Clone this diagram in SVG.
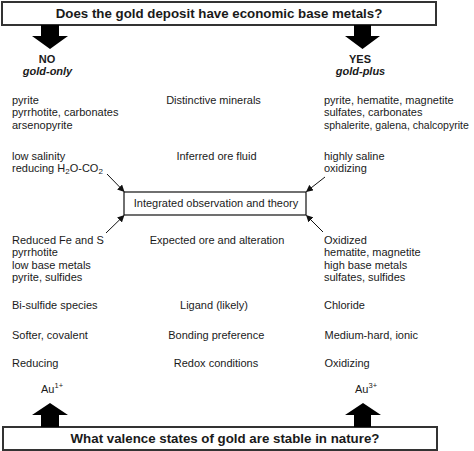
<svg xmlns="http://www.w3.org/2000/svg" width="474" height="451" viewBox="0 0 474 451">
<defs>
<style>
text{font-family:"Liberation Sans",Arial,sans-serif;fill:#1a1a1a;}
.t{font-size:11px;}
.s{font-size:10.5px;}
.m{font-size:11px;text-anchor:middle;}
.q{font-size:13.3px;font-weight:bold;text-anchor:middle;}
.b{font-size:11px;font-weight:bold;text-anchor:middle;}
.bi{font-size:11px;font-weight:bold;font-style:italic;text-anchor:middle;}
.qbox{fill:#fff;stroke:#333;stroke-width:2;}
.box{fill:#fff;stroke:#111;stroke-width:1.2;}
.big{fill:#000;}
.ln{stroke:#111;stroke-width:1;fill:none;marker-end:url(#ah);}
</style>
<marker id="ah" viewBox="0 0 10 10" refX="9" refY="5" markerWidth="7" markerHeight="7" markerUnits="userSpaceOnUse" orient="auto">
<path d="M0,0 L10,5 L0,10 z" fill="#111"/>
</marker>
</defs>
<rect width="474" height="451" fill="#fff"/>

<g id="top-question">
<rect class="qbox" x="2" y="2" width="434" height="23"/>
<text class="q" x="219" y="18">Does the gold deposit have economic base metals?</text>
</g>

<g id="bottom-question">
<rect class="qbox" x="3" y="427" width="434" height="23"/>
<text class="q" x="225" y="443">What valence states of gold are stable in nature?</text>
</g>

<g id="connectors">
<path class="big" d="M41,25 H59 V36 H68 L50,49 L32,36 H41 z"/>
<path class="big" d="M354,25 H371 V36 H380 L362.5,49 L345,36 H354 z"/>
<path class="big" d="M41,427 H59 V415 H68 L50,403 L32,415 H41 z"/>
<path class="big" d="M354,427 H371 V415 H381 L363,403 L345,415 H354 z"/>
<line class="ln" x1="107" y1="174" x2="124" y2="191.5"/>
<line class="ln" x1="106" y1="233" x2="124" y2="215.5"/>
<line class="ln" x1="325" y1="177" x2="306.5" y2="191.5"/>
<line class="ln" x1="323" y1="232" x2="306.5" y2="215.5"/>
</g>

<g id="no-label">
<text class="b" x="47" y="63">NO</text>
<text class="bi" x="47.5" y="75">gold-only</text>
</g>
<g id="yes-label">
<text class="b" x="360" y="63">YES</text>
<text class="bi" x="360.5" y="75">gold-plus</text>
</g>

<g id="integrated">
<rect class="box" x="124" y="192" width="182" height="23"/>
<text class="m" x="216" y="207">Integrated observation and theory</text>
</g>

<g id="minerals">
<text class="t" x="12" y="103.5">pyrite</text>
<text class="t" x="12" y="116">pyrrhotite, carbonates</text>
<text class="t" x="12" y="128.5">arsenopyrite</text>
<text class="m" x="213.5" y="103.5">Distinctive minerals</text>
<text class="t" x="324" y="103.5">pyrite, hematite, magnetite</text>
<text class="t" x="324" y="116">sulfates, carbonates</text>
<text class="s" x="324" y="128.5">sphalerite, galena, chalcopyrite</text>
</g>

<g id="fluid">
<text class="t" x="12" y="159.5">low salinity</text>
<text class="t" x="12" y="172">reducing H<tspan font-size="8" dy="2">2</tspan><tspan dy="-2">O-CO</tspan><tspan font-size="8" dy="2">2</tspan></text>
<text class="m" x="216.5" y="159.5">Inferred ore fluid</text>
<text class="t" x="324" y="159.5">highly saline</text>
<text class="t" x="324" y="172">oxidizing</text>
</g>

<g id="ore-alteration">
<text class="t" x="12" y="243.5">Reduced Fe and S</text>
<text class="t" x="12" y="256">pyrrhotite</text>
<text class="t" x="12" y="268.5">low base metals</text>
<text class="t" x="12" y="281">pyrite, sulfides</text>
<text class="m" x="217" y="243.5">Expected ore and alteration</text>
<text class="t" x="324" y="243.5">Oxidized</text>
<text class="t" x="324" y="256">hematite, magnetite</text>
<text class="t" x="324" y="268.5">high base metals</text>
<text class="t" x="324" y="281">sulfates, sulfides</text>
</g>

<g id="ligand">
<text class="t" x="12" y="309">Bi-sulfide species</text>
<text class="m" x="214" y="309">Ligand (likely)</text>
<text class="t" x="324" y="309">Chloride</text>
</g>

<g id="bonding">
<text class="t" x="12" y="339">Softer, covalent</text>
<text class="m" x="216.3" y="339">Bonding preference</text>
<text class="t" x="324.5" y="339">Medium-hard, ionic</text>
</g>

<g id="redox">
<text class="t" x="12" y="367">Reducing</text>
<text class="m" x="216" y="367">Redox conditions</text>
<text class="t" x="324.5" y="367">Oxidizing</text>
</g>

<g id="au1">
<text class="t" x="41" y="393">Au<tspan font-size="7.5" dy="-5">1+</tspan></text>
</g>
<g id="au3">
<text class="t" x="355" y="393">Au<tspan font-size="7.5" dy="-5">3+</tspan></text>
</g>
</svg>
